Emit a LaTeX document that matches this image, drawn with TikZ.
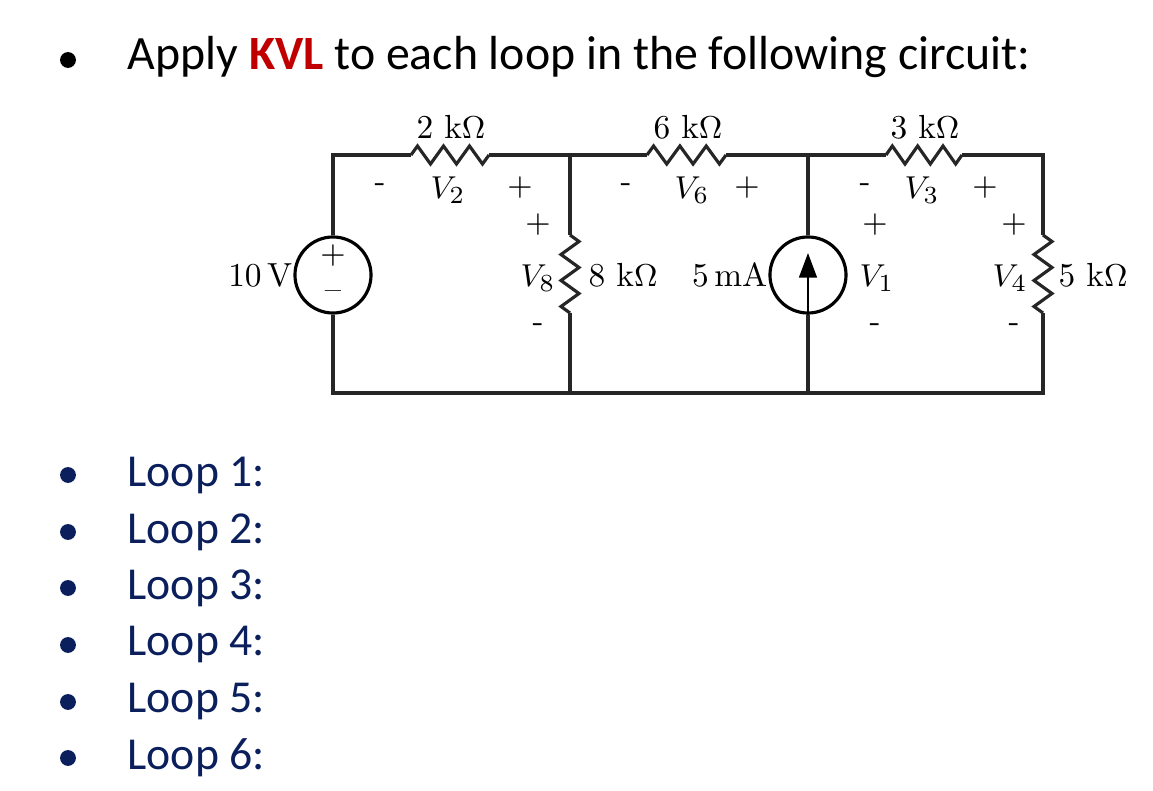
\documentclass[tikz,border=0pt]{standalone}
\usepackage{fontspec}
\usetikzlibrary{arrows.meta,calc}
\newfontfamily\calib{Carlito}
\definecolor{navy}{HTML}{0A1F5C}
\definecolor{kvlred}{HTML}{C00000}
\begin{document}
\begin{tikzpicture}[x=0.01cm,y=-0.01cm,
  wire/.style={line width=0.9pt,black!85},
  lbl/.style={font=\fontsize{9.5}{10}\selectfont,inner sep=0pt},
  sgn/.style={font=\fontsize{9}{10}\selectfont,inner sep=0pt},
  bul/.style={font=\calib\fontsize{13}{15}\selectfont,text=navy,anchor=west,inner sep=0pt},
  dot/.style={circle,fill=black,inner sep=0pt,minimum size=4.5pt}]
\useasboundingbox (0,0) rectangle (1153,791);
% title
\node[dot] (b0) at (68,60) {};
\node[bul,text=black,font=\calib\fontsize{13.6}{15}\selectfont] (title) at (127,57) {Apply \textbf{\textcolor{kvlred}{KVL}} to each loop in the following circuit:};
\foreach \i/\y in {1/475,2/532,3/588,4/645,5/702,6/758}{
  \node[dot,fill=navy] (d\i) at (68,\y) {};
  \node[bul] (l\i) at (127,\y) {Loop \i:};
}
% corners
\coordinate (tl) at (333,155); \coordinate (bl) at (333,393);
\coordinate (t1) at (570,155); \coordinate (b1) at (570,393);
\coordinate (t2) at (808,155); \coordinate (b2) at (808,393);
\coordinate (tr) at (1043,155); \coordinate (br) at (1043,393);
% sources
\node[draw,circle,line width=0.9pt,minimum size=0.76cm,inner sep=0pt] (vs) at (333,275) {};
\node[draw,circle,line width=0.9pt,minimum size=0.76cm,inner sep=0pt] (cs) at (808,275) {};
\node[sgn] (vp) at (333,256) {+};
\node[sgn] (vm) at (333,295) {--};
\draw[line width=0.8pt,-{Triangle[length=7pt,width=5pt]}] (cs.south) -- ([yshift=-5pt]cs.north);
% resistors horizontal
\foreach \n/\a/\b in {r2/411/489,r6/647/726,r3/886/962}{
  \coordinate (\n a) at (\a,155); \coordinate (\n b) at (\b,155);
  \draw[wire] (\n a) \foreach \t/\d in {1/-9,3/9,5/-9,7/9,9/-9,11/9}{ -- ($(\n a)!\t/12!(\n b)+(0,\d)$)} -- (\n b);
}
% resistors vertical
\foreach \n/\x in {r8/570,r5/1043}{
  \coordinate (\n a) at (\x,235); \coordinate (\n b) at (\x,313);
  \draw[wire] (\n a) \foreach \t/\d in {1/9,3/-9,5/9,7/-9,9/9,11/-9}{ -- ($(\n a)!\t/12!(\n b)+(\d,0)$)} -- (\n b);
}
% wires
\draw[wire] (vs.north) -- (tl) -- (r2a) (r2b) -- (t1) -- (r6a) (r6b) -- (t2) -- (r3a) (r3b) -- (tr) -- (r5a);
\draw[wire] (vs.south) -- (bl) -- (b1) -- (b2) -- (br) -- (r5b);
\draw[wire] (t1) -- (r8a) (r8b) -- (b1);
\draw[wire] (t2) -- (cs.north) (cs.south) -- (b2);
% labels
\node[lbl,anchor=east] (l10) at (293,275) {10\,V};
\node[lbl] (l2k) at (451,127) {2 k$\Omega$};
\node[lbl] (l6k) at (688,127) {6 k$\Omega$};
\node[lbl] (l3k) at (925,127) {3 k$\Omega$};
\node[lbl,anchor=west] (l8k) at (588,275) {8 k$\Omega$};
\node[lbl,anchor=east] (l5m) at (768,275) {5\,mA};
\node[lbl,anchor=west] (l5k) at (1058,275) {5 k$\Omega$};
\node[lbl] (v2) at (448,190) {$V_2$};
\node[lbl] (v6) at (692,190) {$V_6$};
\node[lbl] (v3) at (922,190) {$V_3$};
\node[lbl] (v8) at (538,278) {$V_8$};
\node[lbl] (v1) at (877,278) {$V_1$};
\node[lbl] (v4) at (1010,278) {$V_4$};
\foreach \x/\s in {380/-,520/+,626/-,747/+,865/-,985/+}{
  \node[sgn] at (\x,188) {\s};
}
\foreach \x in {538,875,1014}{
  \node[sgn] at (\x,225) {+};
  \node[sgn] at (\x,328) {-};
}
\end{tikzpicture}
\end{document}
